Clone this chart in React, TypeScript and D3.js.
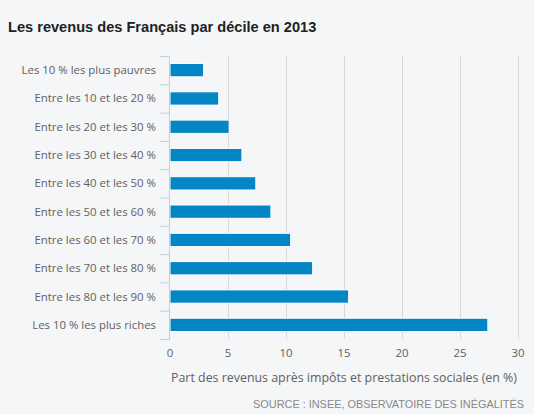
import React, { useRef, useEffect } from 'react';
import * as d3 from 'd3';

const categories = [
  'Les 10 % les plus pauvres',
  'Entre les 10 et les 20 %',
  'Entre les 20 et les 30 %',
  'Entre les 30 et les 40 %',
  'Entre les 40 et les 50 %',
  'Entre les 50 et les 60 %',
  'Entre les 60 et les 70 %',
  'Entre les 70 et les 80 %',
  'Entre les 80 et les 90 %',
  'Les 10 % les plus riches',
];
const shares = [2.9, 4.2, 5.1, 6.2, 7.4, 8.7, 10.4, 12.3, 15.4, 27.4];
const xTicks = [0, 5, 10, 15, 20, 25, 30];

const title = 'Les revenus des Français par décile en 2013';
const axisTitle = 'Part des revenus après impôts et prestations sociales (en %)';
const source = 'SOURCE : INSEE, OBSERVATOIRE DES INÉGALITÉS';

const App: React.FC = () => {
  const svgRef = useRef<SVGSVGElement | null>(null);
  const width = 534;
  const height = 414;
  const marginLeft = 170;
  const marginRight = 16;
  const marginTop = 56;
  const plotBottom = 339;

  useEffect(() => {
    const svg = d3.select(svgRef.current);
    svg.selectAll('*').remove();
    const labelFont = '"Open Sans", "DejaVu Sans", sans-serif';

    svg.append('rect').attr('width', width).attr('height', height).attr('fill', '#f5f6f8');

    svg.append('text')
      .attr('x', 8).attr('y', 32)
      .attr('font-family', '"Liberation Sans", Arial, sans-serif')
      .attr('font-weight', 'bold')
      .attr('font-size', 14.6)
      .attr('fill', '#222')
      .text(title);

    const x = d3.scaleLinear().domain([0, 30]).range([marginLeft, width - marginRight]);
    const y = d3.scaleBand<string>()
      .domain(categories)
      .range([marginTop, plotBottom])
      .paddingInner(0.53)
      .paddingOuter(0.265);
    const step = y.step();

    // grid
    svg.append('g').selectAll('line')
      .data(xTicks.filter(d => d > 0))
      .join('line')
      .attr('x1', d => x(d) + 0.5).attr('x2', d => x(d) + 0.5)
      .attr('y1', marginTop).attr('y2', plotBottom)
      .attr('stroke', '#d8d8d8').attr('stroke-width', 1);

    // bars
    svg.append('g').selectAll('rect')
      .data(shares)
      .join('rect')
      .attr('x', x(0))
      .attr('y', (d, i) => y(categories[i]) as number)
      .attr('width', d => x(d) - x(0))
      .attr('height', y.bandwidth())
      .attr('fill', '#0386c3')
      .attr('stroke', '#ffffff')
      .attr('stroke-width', 1);

    // category axis
    const yAxis = svg.append('g');
    yAxis.append('line')
      .attr('x1', x(0) - 0.5).attr('x2', x(0) - 0.5)
      .attr('y1', marginTop).attr('y2', plotBottom)
      .attr('stroke', '#c0d0e0');
    yAxis.selectAll('line.tick')
      .data(d3.range(categories.length + 1))
      .join('line')
      .attr('class', 'tick')
      .attr('x1', x(0) - 10).attr('x2', x(0))
      .attr('y1', i => marginTop + i * step + 0.5)
      .attr('y2', i => marginTop + i * step + 0.5)
      .attr('stroke', '#c0d0e0');
    yAxis.selectAll('text')
      .data(categories)
      .join('text')
      .attr('x', x(0) - 14)
      .attr('y', d => (y(d) as number) + y.bandwidth() / 2)
      .attr('dy', '0.35em')
      .attr('text-anchor', 'end')
      .attr('font-family', labelFont)
      .attr('font-size', 11.4)
      .attr('fill', '#606060')
      .text(d => d);

    // value axis labels
    svg.append('g').selectAll('text')
      .data(xTicks)
      .join('text')
      .attr('x', d => x(d))
      .attr('y', plotBottom + 18)
      .attr('text-anchor', 'middle')
      .attr('font-family', labelFont)
      .attr('font-size', 11.4)
      .attr('fill', '#606060')
      .text(d => d);

    svg.append('text')
      .attr('x', (x(0) + x(30)) / 2)
      .attr('y', plotBottom + 43)
      .attr('text-anchor', 'middle')
      .attr('font-family', labelFont)
      .attr('font-size', 12.4)
      .attr('fill', '#606060')
      .text(axisTitle);

    svg.append('text')
      .attr('x', width - 10)
      .attr('y', 408)
      .attr('text-anchor', 'end')
      .attr('font-family', '"Liberation Sans", Arial, sans-serif')
      .attr('font-size', 10.9)
      .attr('fill', '#888')
      .text(source);
  }, []);

  return (
    <div style={{ position: 'absolute', left: 0, top: 0 }}>
      <svg ref={svgRef} width={width} height={height} style={{ display: 'block' }} />
    </div>
  );
};

export default App;
